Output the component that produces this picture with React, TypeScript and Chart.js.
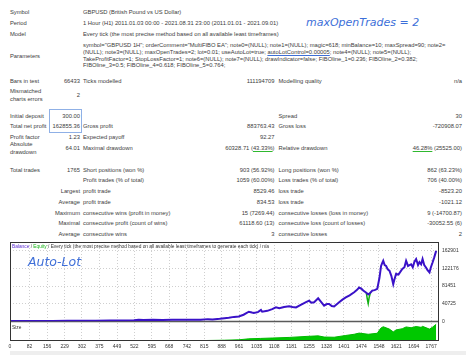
import React, { useEffect, useRef } from 'react';
import { Chart, registerables } from 'chart.js';
Chart.register(...registerables);

// ---------- chart data ----------
const X_TICKS = [0, 82, 156, 229, 302, 375, 449, 522, 595, 668, 742, 815, 888, 961, 1035, 1108, 1181, 1255, 1328, 1401, 1474, 1548, 1621, 1694, 1767];
const Y_TICKS = [0, 40725, 81451, 122176, 162901];

const BAL_X = [0, 60, 120, 180, 240, 300, 360, 420, 480, 520, 540, 560, 600, 640, 680, 720, 760, 800, 830, 850, 880, 900, 918, 940, 960, 980, 1002, 1015, 1023, 1040, 1053, 1058, 1080, 1100, 1116, 1130, 1150, 1171, 1185, 1200, 1220, 1242, 1255, 1265, 1276, 1293, 1305, 1318, 1330, 1339, 1350, 1360, 1381, 1395, 1409, 1425, 1444, 1455, 1465, 1475, 1482, 1495, 1503, 1512, 1520, 1530, 1541, 1550, 1557, 1562, 1566, 1572, 1578, 1585, 1592, 1600, 1608, 1612, 1620, 1630, 1646, 1655, 1662, 1670, 1683, 1690, 1697, 1704, 1712, 1718, 1725, 1731, 1738, 1746, 1752, 1760, 1766, 1773, 1780, 1788];
const BAL_Y = [300, 420, 560, 700, 850, 1000, 1200, 1450, 1700, 2100, 3200, 2700, 3400, 3000, 3300, 3100, 3600, 3300, 4800, 4200, 5500, 7000, 8000, 10000, 11000, 15000, 22000, 20000, 19000, 21000, 26000, 22000, 24000, 28000, 32000, 30000, 33000, 34500, 33000, 32000, 38000, 44000, 47700, 43000, 44000, 53000, 45000, 36000, 40000, 40000, 35000, 34000, 44000, 50000, 55000, 60000, 67000, 72000, 78000, 75000, 71000, 66000, 62000, 66000, 71000, 72000, 75000, 100000, 128000, 135000, 140000, 130000, 128000, 120000, 117000, 105000, 86000, 95000, 110000, 108000, 121000, 125000, 140000, 128000, 132000, 125000, 138000, 144000, 130000, 137000, 132000, 144000, 130000, 124000, 118000, 113000, 125000, 136000, 148000, 163000];

const EQ_X = [1495, 1499, 1503, 1507, 1512];
const EQ_Y = [66000, 52000, 41000, 55000, 66000];

const SIZE_X = [0, 200, 400, 520, 600, 700, 800, 900, 960, 1002, 1050, 1100, 1171, 1242, 1293, 1318, 1360, 1409, 1444, 1465, 1503, 1541, 1550, 1557, 1566, 1592, 1608, 1620, 1646, 1662, 1683, 1704, 1725, 1731, 1760, 1773, 1788];
const SIZE_Y = [0.02, 0.04, 0.07, 0.12, 0.18, 0.18, 0.2, 0.4, 0.6, 1.1, 1.3, 1.5, 1.8, 2.3, 2.6, 2.0, 1.9, 2.8, 3.4, 4.0, 3.4, 3.9, 5.5, 6.6, 7.2, 6.0, 4.6, 5.6, 6.2, 7.1, 6.7, 7.3, 6.9, 7.4, 6.0, 7.0, 8.4];

// ---------- report text ----------
const INFO_LABELS = ['Symbol', 'Period', 'Model'];
const INFO_VALUES = [
  'GBPUSD (British Pound vs US Dollar)',
  '1 Hour (H1) 2011.01.03 00:00 - 2021.08.31 23:00 (2011.01.01 - 2021.09.01)',
  'Every tick (the most precise method based on all available least timeframes)',
];
const PARAM_LINES = [
  'symbol="GBPUSD 1H"; orderComment="MultiFIBO EA"; note0=(NULL); note1=(NULL); magic=618; minBalance=10; maxSpread=90; note2=',
  '(NULL); note3=(NULL); maxOpenTrades=2; lot=0.01; useAutoLot=true; |autoLotControl=0.00005|; note4=(NULL); note5=(NULL);',
  'TakeProfitFactor=1; StopLossFactor=1; note6=(NULL); note7=(NULL); drawIndicator=false; FIBOline_1=0.236; FIBOline_2=0.382;',
  'FIBOline_3=0.5; FIBOline_4=0.618; FIBOline_5=0.764;',
];
const STATS = [
  ['Bars in test', '66433', 'Ticks modelled', '111194709', 'Modelling quality', 'n/a'],
  ['Mismatched\ncharts errors', '2', '', '', '', ''],
  ['Initial deposit', '300.00', '', '', 'Spread', '30'],
  ['Total net profit', '162855.36', 'Gross profit', '883763.43', 'Gross loss', '-720908.07'],
  ['Profit factor', '1.23', 'Expected payoff', '92.27', '', ''],
  ['Absolute\ndrawdown', '64.01', 'Maximal drawdown', '60328.71 (|43.33%|)', 'Relative drawdown', '|46.28%| (25525.00)'],
  ['Total trades', '1765', 'Short positions (won %)', '903 (56.92%)', 'Long positions (won %)', '862 (63.23%)'],
  ['', '', 'Profit trades (% of total)', '1059 (60.00%)', 'Loss trades (% of total)', '706 (40.00%)'],
];
const DETAILS = [
  ['Largest', 'profit trade', '8529.46', 'loss trade', '-8523.20'],
  ['Average', 'profit trade', '834.53', 'loss trade', '-1021.12'],
  ['Maximum', 'consecutive wins (profit in money)', '15 (7269.44)', 'consecutive losses (loss in money)', '9 (-14700.87)'],
  ['Maximal', 'consecutive profit (count of wins)', '61118.60 (13)', 'consecutive loss (count of losses)', '-30052.55 (6)'],
  ['Average', 'consecutive wins', '3', 'consecutive losses', '2'],
];
const CHART_TITLE = ['Balance', ' / ', 'Equity', ' / Every tick (the most precise method based on all available least timeframes to generate each tick) / n/a'];

// ---------- layout ----------
const W = 474;
const H = 355;
const FONT = '"Liberation Sans", Arial, sans-serif';
const FS = 5.8;
const INFO_Y = [12.3, 23.2, 33.6];
const PARAM_Y = [45, 51.8, 58.6, 65.4];
const STATS_Y = [81, 95.3, 115.6, 126, 136.7, 147.9, 169.6, 180.2];
const DETAILS_Y = [191, 201.7, 212.5, 223, 233.5];
const C1 = 10, C2R = 80, C3 = 83, C4R = 274.5, C5 = 278.5, C6R = 462;

function rich(s: string, color: string) {
  const parts = s.split('|');
  return parts.map((p, i) =>
    i % 2 === 1 ? (
      <span key={i} style={{ textDecoration: 'underline', textDecorationColor: color, textUnderlineOffset: '1px' }}>{p}</span>
    ) : (
      <span key={i}>{p}</span>
    )
  );
}

function Txt({ x, y, right, children, lh }: any) {
  const lines = typeof children === 'string' ? children.split('\n') : null;
  const lineH = lh || 8;
  const n = lines ? lines.length : 1;
  const style: any = {
    position: 'absolute',
    top: y - (n * lineH) / 2,
    lineHeight: lineH + 'px',
    fontSize: FS,
    fontFamily: FONT,
    color: '#3c3c3c',
    whiteSpace: 'pre',
    textAlign: right ? 'right' : 'left',
  };
  if (right) style.right = W - x;
  else style.left = x;
  return <div style={style}>{children}</div>;
}

function BalanceChart() {
  const ref = useRef<HTMLCanvasElement>(null);
  useEffect(() => {
    if (!ref.current) return;
    const bal = BAL_X.map((x, i) => ({ x, y: BAL_Y[i] }));
    const eq = EQ_X.map((x, i) => ({ x, y: EQ_Y[i] }));
    const size = SIZE_X.map((x, i) => ({ x, y: SIZE_Y[i] }));
    const tickFont = { family: FONT, size: 5 };
    const overlay = {
      id: 'overlay',
      beforeDatasetsDraw(chart: any) {
        const { ctx, chartArea: a, scales } = chart;
        const y0 = Math.round(scales.y.getPixelForValue(0)) + 0.5;
        ctx.save();
        ctx.strokeStyle = '#5a5a5a';
        ctx.lineWidth = 1.5;
        ctx.beginPath();
        ctx.moveTo(a.left, y0);
        ctx.lineTo(a.right, y0);
        ctx.stroke();
        ctx.restore();
      },
      afterDraw(chart: any) {
        const { ctx, chartArea: a, scales } = chart;
        ctx.save();
        ctx.strokeStyle = '#333';
        ctx.lineWidth = 1;
        ctx.strokeRect(Math.round(a.left) + 0.5, Math.round(a.top) + 0.5, Math.round(a.right - a.left) - 1, Math.round(a.bottom - a.top) - 1);
        ctx.font = '4.8px ' + FONT;
        ctx.textBaseline = 'middle';
        let x = a.left + 2;
        const colors = ['#5a2bd0', '#333', '#18b418', '#333'];
        CHART_TITLE.forEach((t, i) => {
          ctx.fillStyle = colors[i];
          ctx.fillText(t, x, a.top + 4.8);
          x += ctx.measureText(t).width;
        });
        ctx.fillStyle = '#333';
        ctx.fillText('Size', a.left + 2, scales.ySize.top + 6);
        ctx.restore();
      },
    };
    const chart = new Chart(ref.current, {
      type: 'line',
      data: {
        datasets: [
          { data: size, yAxisID: 'ySize', borderColor: '#00b800', backgroundColor: '#00c800', fill: 'origin', borderWidth: 1, pointRadius: 0, order: 3 },
          { data: eq, yAxisID: 'y', borderColor: '#10b010', borderWidth: 1.5, pointRadius: 0, fill: false, order: 2 },
          { data: bal, yAxisID: 'y', borderColor: '#3a12c8', borderWidth: 2, pointRadius: 0, fill: false, order: 1 },
        ],
      },
      options: {
        animation: false,
        responsive: false,
        maintainAspectRatio: false,
        layout: { padding: { left: 10, top: 5, right: 0, bottom: 0 } },
        plugins: { legend: { display: false }, tooltip: { enabled: false }, title: { display: false } },
        scales: {
          x: {
            type: 'linear',
            min: 0,
            max: 1800,
            afterBuildTicks: (s: any) => { s.ticks = X_TICKS.map((v) => ({ value: v })); },
            afterFit: (s: any) => { s.height = 14; },
            ticks: { autoSkip: false, maxRotation: 0, padding: 3, font: tickFont, color: '#333', callback: (v: any) => String(v) },
            grid: { color: '#cfcfcf', drawTicks: false },
            border: { display: false, dash: [1, 2] },
          },
          y: {
            type: 'linear',
            position: 'right',
            stack: 'bal',
            stackWeight: 4,
            min: 0,
            max: 183550,
            afterBuildTicks: (s: any) => { s.ticks = Y_TICKS.map((v) => ({ value: v })); },
            afterFit: (s: any) => { s.width = 35; },
            ticks: { padding: 3, font: tickFont, color: '#333', callback: (v: any) => String(v) },
            grid: { color: '#cfcfcf', drawTicks: false },
            border: { display: false, dash: [1, 2] },
          },
          ySize: {
            type: 'linear',
            position: 'right',
            stack: 'bal',
            stackWeight: 1,
            min: 0,
            max: 10,
            afterFit: (s: any) => { s.width = 35; },
            ticks: { display: false },
            grid: { display: false },
            border: { display: false },
          },
        },
      } as any,
      plugins: [overlay],
    });
    return () => chart.destroy();
  }, []);
  return <canvas ref={ref} width={W} height={119} style={{ position: 'absolute', left: 0, top: 236, width: W, height: 119 }} />;
}

export default function App() {
  return (
    <div style={{ position: 'fixed', left: 0, top: 0, width: W, height: H, background: '#fff', overflow: 'hidden' }}>
      {INFO_LABELS.map((l, i) => (
        <React.Fragment key={'i' + i}>
          <Txt x={C1} y={INFO_Y[i]}>{l}</Txt>
          <Txt x={C3} y={INFO_Y[i]}>{INFO_VALUES[i]}</Txt>
        </React.Fragment>
      ))}
      <Txt x={C1} y={56}>Parameters</Txt>
      {PARAM_LINES.map((l, i) => (
        <Txt key={'p' + i} x={C3} y={PARAM_Y[i]}>{rich(l, '#3d6fd6')}</Txt>
      ))}
      <div style={{ position: 'absolute', left: 49, top: 108.5, width: 31, height: 22.5, border: '1px solid #8fb0e6' }} />
      {STATS.map((r, i) => (
        <React.Fragment key={'s' + i}>
          {r[0] && <Txt x={C1} y={STATS_Y[i]} lh={r[0].includes('\n') ? 8 : 8}>{r[0]}</Txt>}
          {r[1] && <Txt x={C2R} y={STATS_Y[i]} right>{r[1]}</Txt>}
          {r[2] && <Txt x={C3} y={STATS_Y[i]}>{r[2]}</Txt>}
          {r[3] && <Txt x={C4R} y={STATS_Y[i]} right>{rich(r[3], '#2fb82f')}</Txt>}
          {r[4] && <Txt x={C5} y={STATS_Y[i]}>{r[4]}</Txt>}
          {r[5] && <Txt x={C6R} y={STATS_Y[i]} right>{rich(r[5], '#2fb82f')}</Txt>}
        </React.Fragment>
      ))}
      {DETAILS.map((r, i) => (
        <React.Fragment key={'d' + i}>
          <Txt x={C2R} y={DETAILS_Y[i]} right>{r[0]}</Txt>
          <Txt x={C3} y={DETAILS_Y[i]}>{r[1]}</Txt>
          <Txt x={C4R} y={DETAILS_Y[i]} right>{r[2]}</Txt>
          <Txt x={C5} y={DETAILS_Y[i]}>{r[3]}</Txt>
          <Txt x={C6R} y={DETAILS_Y[i]} right>{r[4]}</Txt>
        </React.Fragment>
      ))}
      <div style={{ position: 'absolute', left: 306, top: 15, lineHeight: '16px', fontSize: 11, fontStyle: 'italic', fontFamily: '"DejaVu Sans", Verdana, sans-serif', color: '#3c6fd9', whiteSpace: 'pre' }}>maxOpenTrades = 2</div>
      <BalanceChart />
      <div style={{ position: 'absolute', left: 28, top: 254, lineHeight: '16px', fontSize: 12.5, fontStyle: 'italic', fontFamily: '"DejaVu Sans", Verdana, sans-serif', color: '#3f6fd8', whiteSpace: 'pre' }}>Auto-Lot</div>
      <div style={{ position: 'absolute', left: 10, top: 351, width: 456, height: 4, background: '#eeeeee' }} />
    </div>
  );
}
